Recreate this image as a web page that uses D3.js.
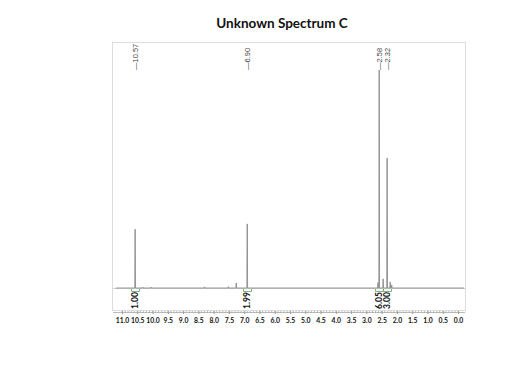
<!DOCTYPE html>
<html>
<head>
<meta charset="utf-8">
<script src="https://cdn.jsdelivr.net/npm/d3@7"></script>
<style>
  body { margin: 0; background: #fff; }
  svg { display: block; }
</style>
</head>
<body>
<script>
// peaks: chemical shift (ppm) and relative height
var peakShifts  = [10.57, 10.32, 10.05, 8.30, 7.52, 7.26, 6.90, 2.62, 2.58, 2.45, 2.32, 2.22, 2.17];
var peakHeights = [27.0,  0.4,   0.4,   0.5,  0.6,  2.3,  29.4, 2.5,  100,  4.2,  59.6, 2.8,  1.4];

// labelled shifts at the top
var shiftLabels = ["10.57", "6.90", "2.58", "2.32"];
var shiftLabelPos = [10.57, 6.90, 2.58, 2.32];

// integrals
var integralPos    = [10.57, 6.90, 2.60, 2.32];
var integralLabels = ["1.00", "1.99", "6.05", "3.00"];

var axisTicks = [11.0, 10.5, 10.0, 9.5, 9.0, 8.5, 8.0, 7.5, 7.0, 6.5, 6.0, 5.5, 5.0, 4.5, 4.0, 3.5, 3.0, 2.5, 2.0, 1.5, 1.0, 0.5, 0.0];

var W = 521, H = 365;
var svg = d3.select("body").append("svg").attr("width", W).attr("height", H);

var x = d3.scaleLinear().domain([11, 0]).range([122, 458]);
var y = d3.scaleLinear().domain([0, 100]).range([288, 70]);

// title
svg.append("text")
    .attr("x", 282).attr("y", 28)
    .attr("text-anchor", "middle")
    .style("font-family", "Lato, 'Open Sans', sans-serif")
    .style("font-weight", "bold")
    .style("font-size", "13.5px")
    .style("fill", "#111")
    .text("Unknown Spectrum C");

// frame
svg.append("rect")
    .attr("x", 112.5).attr("y", 42.5)
    .attr("width", 353).attr("height", 268)
    .style("fill", "none")
    .style("stroke", "#dcdcdc");

// baseline
svg.append("line")
    .attr("x1", 113).attr("x2", 465)
    .attr("y1", y(0) + 0.5).attr("y2", y(0) + 0.5)
    .style("stroke", "#cfcfcf");

// spectrum built from peaks
var pts = [[11.2, 0]];
var order = d3.range(peakShifts.length).sort(function (a, b) { return peakShifts[b] - peakShifts[a]; });
order.forEach(function (i) {
    var p = peakShifts[i];
    pts.push([p + 0.012, 0]);
    pts.push([p, peakHeights[i]]);
    pts.push([p - 0.012, 0]);
});
pts.push([-0.2, 0]);

var line = d3.line()
    .x(function (d) { return x(d[0]); })
    .y(function (d) { return y(d[1]); });

svg.append("path")
    .datum(pts)
    .attr("d", line)
    .style("fill", "none")
    .style("stroke", "#8a8a8a")
    .style("stroke-width", 0.9);

// shift labels at top
svg.selectAll(".shift")
    .data(shiftLabels)
    .enter().append("text")
    .attr("class", "shift")
    .attr("transform", function (d, i) {
        return "translate(" + (x(shiftLabelPos[i]) + 2.5) + ",70) rotate(-90)";
    })
    .style("font-family", "'Liberation Sans', Arial, sans-serif")
    .style("font-size", "7.5px")
    .style("fill", "#444")
    .text(function (d) { return "\u2014" + d; });

// integral brackets
var integ = svg.selectAll(".integ")
    .data(integralPos)
    .enter().append("g")
    .attr("class", "integ");

integ.append("path")
    .attr("d", function (d) {
        var cx = Math.round(x(d)) + 0.5;
        return "M" + (cx - 4) + ",289 L" + (cx - 4) + ",291.5 L" + (cx + 4) + ",291.5 L" + (cx + 4) + ",289";
    })
    .style("fill", "none")
    .style("stroke", "#5aa55a")
    .style("stroke-width", 0.8);

integ.append("text")
    .attr("transform", function (d) {
        return "translate(" + (x(d) + 3) + ",309) rotate(-90)";
    })
    .style("font-family", "Lato, 'Open Sans', sans-serif")
    .style("font-weight", "bold")
    .style("font-size", "8.5px")
    .style("fill", "#111")
    .text(function (d, i) { return integralLabels[i]; });

// bottom axis
var axis = d3.axisBottom(x)
    .tickValues(axisTicks)
    .tickSize(3)
    .tickFormat(d3.format(".1f"));

var ax = svg.append("g")
    .attr("transform", "translate(0,312)")
    .call(axis);

ax.select(".domain").style("stroke", "#bbb").attr("d", "M113,0.5H465");
ax.selectAll(".tick line").style("stroke", "#999").attr("y1", -1).attr("y2", 2);
ax.selectAll(".tick text")
    .attr("y", 6)
    .style("font-family", "Lato, 'Open Sans', sans-serif")
    .style("font-weight", "bold")
    .style("font-size", "6.8px")
    .style("fill", "#111");

// minor ticks
var minor = d3.range(0, 111).map(function (i) { return i / 10; });
ax.selectAll(".minor")
    .data(minor)
    .enter().append("line")
    .attr("class", "minor")
    .attr("x1", function (d) { return x(d); })
    .attr("x2", function (d) { return x(d); })
    .attr("y1", -1).attr("y2", 1)
    .style("stroke", "#aaa")
    .style("stroke-width", 0.8);
</script>
</body>
</html>
